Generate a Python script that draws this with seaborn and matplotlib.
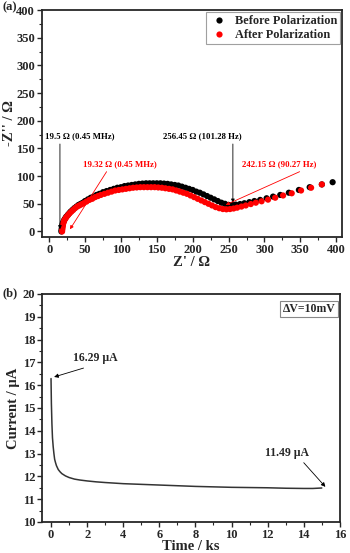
import numpy as np
import pandas as pd
import matplotlib
matplotlib.use("Agg")
import matplotlib.pyplot as plt
from matplotlib.ticker import MultipleLocator
import seaborn as sns

# ---- data (a) Nyquist ----
before_zr = [17, 17.3, 17.6, 18, 18.5, 19, 20, 21, 22.5, 24, 26, 28, 30, 32.5, 35, 38, 41, 44, 47, 50, 54, 58, 62, 66, 70, 75, 80,
             85, 90, 95, 100, 105, 110, 115, 120, 125, 130, 135, 140, 145, 150, 155, 160, 165, 170, 175, 180, 185, 190, 195,
             200, 205, 210, 215, 220, 225, 230, 235, 240, 245, 250, 255, 260, 266, 272, 279, 286, 294, 303, 312, 322, 334,
             348, 363, 380, 395]
before_zi = [0, 3, 6, 9, 12, 15, 18, 21, 24, 27, 30, 33, 36, 39, 42, 45, 48, 50, 52, 55, 58, 61, 63, 66, 68, 71, 73,
             75, 77, 79, 80, 82, 83, 84, 85, 86, 86.5, 87, 87, 87, 87, 87, 86.5, 86, 85, 84, 83, 81, 79, 77,
             75, 72, 70, 67, 64, 61, 58, 55, 52, 50, 48, 48, 48.5, 49.5, 51, 53, 55, 57, 60, 63, 66, 70,
             75, 80, 85, 89]
after_zr = [18, 18.2, 18.5, 18.8, 19.2, 19.7, 20.5, 21.5, 23, 24.5, 26.5, 28.5, 31, 33.5, 36, 39, 42, 45, 48, 52, 56, 60, 64,
            68, 72, 77, 82, 87, 92, 97, 102, 107, 112, 117, 122, 127, 132, 137, 142, 147, 152, 157, 162, 167, 172, 177,
            182, 187, 192, 197, 202, 207, 212, 217, 222, 227, 232, 237, 242, 247, 252, 257, 262, 268, 274, 281, 288,
            296, 305, 315, 326, 338, 351, 365, 380]
after_zi = [0, 3, 6, 9, 12, 15, 18, 21, 24, 27, 30, 33, 36, 39, 42, 45, 47, 49, 51, 54, 57, 59, 62,
            64, 66, 68, 70, 72, 74, 75, 76, 77, 78, 79, 79.5, 80, 80, 80, 80, 80, 79.5, 79, 78, 77, 76, 74,
            72, 70, 68, 65, 62, 59, 56, 53, 50, 47, 44, 42, 40.5, 40, 40.5, 41.5, 43, 45, 47, 49.5, 52,
            54.5, 57.5, 61, 65, 69, 74, 79, 85]

# ---- data (b) current vs time ----
time_ks = [0, 0.02, 0.05, 0.08, 0.12, 0.16, 0.2, 0.25, 0.3, 0.4, 0.5, 0.6, 0.8, 1.0, 1.3, 1.6, 2, 2.5, 3, 4, 5, 6, 7, 8, 9,
           10, 11, 12, 13, 14, 14.5, 15]
current_ua = [16.29, 15.2, 14.3, 13.7, 13.3, 13.0, 12.75, 12.6, 12.47, 12.3, 12.2, 12.12, 12.02, 11.95, 11.88, 11.84, 11.8,
              11.76, 11.73, 11.68, 11.65, 11.62, 11.59, 11.56, 11.54, 11.52, 11.51, 11.5, 11.48, 11.47, 11.47, 11.49]

df_a = pd.concat([
    pd.DataFrame({"zr": before_zr, "zi": before_zi, "state": "Before Polarization"}),
    pd.DataFrame({"zr": after_zr, "zi": after_zi, "state": "After Polarization"}),
], ignore_index=True)
df_b = pd.DataFrame({"t": time_ks, "i": current_ua})

sns.set_theme(style="ticks")
plt.rcParams["font.family"] = ["Liberation Serif", "DejaVu Serif"]
plt.rcParams["font.weight"] = "bold"

fig = plt.figure(figsize=(3.5, 5.53), dpi=100)
ax1 = fig.add_axes([0.12, 0.5714, 0.857, 0.4105])
ax2 = fig.add_axes([0.12, 0.0561, 0.851, 0.4123])

# ---- panel (a) ----
sns.scatterplot(data=df_a, x="zr", y="zi", hue="state",
                palette={"Before Polarization": "black", "After Polarization": "red"},
                s=20, linewidth=0, ax=ax1, zorder=3)
ax1.set_xlim(-10, 408)
ax1.set_ylim(-10, 400)
ax1.xaxis.set_major_locator(MultipleLocator(50))
ax1.xaxis.set_minor_locator(MultipleLocator(25))
ax1.yaxis.set_major_locator(MultipleLocator(50))
ax1.yaxis.set_minor_locator(MultipleLocator(25))
ax1.set_xlabel("Z' / Ω", fontsize=10.5, fontweight="bold", labelpad=0)
ax1.set_ylabel("-Z'' / Ω", fontsize=10.5, fontweight="bold", labelpad=0)
leg = ax1.legend(loc="upper right", fontsize=8.8, frameon=True, fancybox=False, edgecolor="#888888",
                 borderaxespad=0.15, handletextpad=0.5, markerscale=1.0, borderpad=0.25, labelspacing=0.2,
                 handlelength=1.6)
leg.get_frame().set_linewidth(0.8)
for t in leg.get_texts():
    t.set_fontweight("bold")

txt_kw = dict(fontsize=6.3, fontweight="bold", ha="center", va="center")
ax1.text(42, 173, "19.5 Ω (0.45 MHz)", color="black", **txt_kw)
ax1.text(214, 173, "256.45 Ω (101.28 Hz)", color="black", **txt_kw)
ax1.text(99, 121, "19.32 Ω (0.45 MHz)", color="red", **txt_kw)
ax1.text(321, 121, "242.15 Ω (90.27 Hz)", color="red", **txt_kw)

def arrow(ax, tip, start, color, ms=5, lw=0.6):
    ax.annotate("", xy=tip, xytext=start,
                arrowprops=dict(arrowstyle="-|>", color=color, lw=lw, mutation_scale=ms, shrinkA=0, shrinkB=0),
                zorder=5)

arrow(ax1, (15, 4), (15, 158), "black")
arrow(ax1, (256, 52), (256, 158), "black")
arrow(ax1, (29, 4), (80, 108), "red")
arrow(ax1, (246, 48), (349, 108), "red")

# ---- panel (b) ----
sns.lineplot(data=df_b, x="t", y="i", color="#333333", lw=1.1, ax=ax2)
ax2.set_xlim(-0.5, 16)
ax2.set_ylim(10, 20)
ax2.xaxis.set_major_locator(MultipleLocator(2))
ax2.xaxis.set_minor_locator(MultipleLocator(1))
ax2.yaxis.set_major_locator(MultipleLocator(1))
ax2.yaxis.set_minor_locator(MultipleLocator(0.5))
ax2.set_xlabel("Time / ks", fontsize=10.5, fontweight="bold", labelpad=-1)
ax2.set_ylabel("Current / µA", fontsize=10.5, fontweight="bold", labelpad=2)
ax2.text(0.985, 0.96, "ΔV=10mV", transform=ax2.transAxes, ha="right", va="top", fontsize=8.5, fontweight="bold",
         bbox=dict(boxstyle="square,pad=0.2", fc="white", ec="#888888", lw=0.8))
ax2.text(2.45, 17.18, "16.29 µA", fontsize=8.5, fontweight="bold", ha="center", va="center")
ax2.text(13.07, 13.03, "11.49 µA", fontsize=8.5, fontweight="bold", ha="center", va="center")
arrow(ax2, (0.17, 16.36), (1.8, 16.75), "black", ms=6)
arrow(ax2, (15.2, 11.54), (14.0, 12.6), "black", ms=6)

for ax in (ax1, ax2):
    for s in ax.spines.values():
        s.set_linewidth(1.3)
        s.set_visible(True)
    ax.tick_params(which="major", direction="out", length=3.5, width=1.0, labelsize=9, pad=1.5)
    ax.tick_params(which="minor", direction="out", length=2, width=0.8)
    for lbl in ax.get_xticklabels() + ax.get_yticklabels():
        lbl.set_fontweight("bold")

fig.text(0.008, 0.997, "(a)", fontsize=9, fontweight="bold", ha="left", va="top")
fig.text(0.008, 0.469, "(b)", fontsize=9, fontweight="bold", ha="left", va="center")

fig.savefig("out.png", dpi=100)
